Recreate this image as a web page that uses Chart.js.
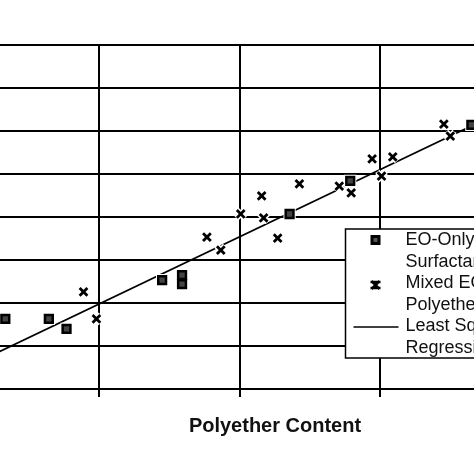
<!DOCTYPE html>
<html><head><script src="https://cdn.jsdelivr.net/npm/chart.js"></script>
<style>body{margin:0;background:#fff;overflow:hidden;width:474px;height:474px;position:relative}
#w{position:absolute;left:-53.5px;top:0;width:585.5px;height:474px}
#t{position:absolute;left:0;width:550px;top:414px;text-align:center;font:bold 20px "Liberation Sans",Arial,sans-serif;color:#111}</style></head>
<body><div id="w"><canvas id="c"></canvas></div><div id="t">Polyether Content</div>
<script>
const eoX=[0.33,0.64,0.766,1.447,1.589,1.589,2.355,2.787,3.65];
const eoY=[1.63,1.63,1.40,2.53,2.65,2.44,4.07,4.84,6.14];
const mxX=[0.887,0.979,1.766,1.865,2.007,2.156,2.17,2.27,2.425,2.709,2.794,2.943,3.01,3.09,3.454,3.50];
const mxY=[2.26,1.63,3.53,3.23,4.07,4.49,3.98,3.51,4.77,4.72,4.56,5.35,4.95,5.40,6.16,5.88];
const fitX=[0,4];const fitIntercept=0.419,fitSlope=1.561;
const legendLabels=[["EO-Only","Surfactant"],["Mixed EO/","Polyether"],["Least Squares","Regression"]];
const pts=(xs,ys)=>xs.map((x,i)=>({x,y:ys[i]}));
const eo=pts(eoX,eoY),mx=pts(mxX,mxY),fit=fitX.map(x=>({x,y:fitIntercept+fitSlope*x}));
const legendPlugin={id:'lg',afterDatasetsDraw(ch){const c=ch.ctx;c.save();
const o=53.5;const L=345+o,T=229,R=600,B=358;c.fillStyle='#fff';c.fillRect(L,T,R-L,B-T);c.strokeStyle='#000';c.lineWidth=1.5;c.strokeRect(L,T,R-L,B-T);
c.fillStyle='#111';c.font='18px "Liberation Sans", Arial, sans-serif';c.textBaseline='middle';
const tx=405+o;const ys=[240,262,283,305,326,348];
legendLabels.flat().forEach((s,i)=>c.fillText(s,tx,ys[i]));
const mx0=375+o;
c.fillStyle='#000';c.fillRect(mx0-5,235,10,10);c.fillStyle='#555';c.fillRect(mx0-2,238,4,4);
c.strokeStyle='#000';c.lineWidth=2.5;c.beginPath();c.moveTo(mx0-4,281);c.lineTo(mx0+4,289);c.moveTo(mx0+4,281);c.lineTo(mx0-4,289);c.moveTo(mx0-5,282);c.lineTo(mx0+5,282);c.moveTo(mx0-5,288);c.lineTo(mx0+5,288);c.stroke();
c.lineWidth=1.5;c.beginPath();c.moveTo(353+o,327);c.lineTo(398+o,327);c.stroke();c.restore();}};
new Chart(document.getElementById('c'),{type:'scatter',data:{datasets:[
{type:'line',data:fit,borderColor:'#000',borderWidth:1.8,pointRadius:0,order:5},
{data:mx,pointStyle:'crossRot',radius:6,borderColor:'#fff',borderWidth:6,order:4},
{data:eo,pointStyle:'rect',radius:6.5,backgroundColor:'#fff',borderColor:'#fff',borderWidth:3,order:4},
{data:mx,pointStyle:'crossRot',radius:5.5,borderColor:'#000',borderWidth:2.8,order:1},
{data:eo,pointStyle:'rect',radius:5.5,backgroundColor:'#444',borderColor:'#000',borderWidth:2.5,order:1}
]},options:{animation:false,responsive:true,maintainAspectRatio:false,
layout:{padding:{top:45,bottom:77,left:0,right:0}},
plugins:{legend:{display:false},tooltip:{enabled:false}},
scales:{x:{type:'linear',min:0,max:4,ticks:{display:false,stepSize:1},grid:{color:'#000',lineWidth:2,tickLength:8,drawTicks:true},border:{color:'#000',width:2}},
y:{min:0,max:8,ticks:{display:false,stepSize:1},grid:{color:'#000',lineWidth:2,drawTicks:false},border:{display:false}}}},
plugins:[legendPlugin]});
</script></body></html>
